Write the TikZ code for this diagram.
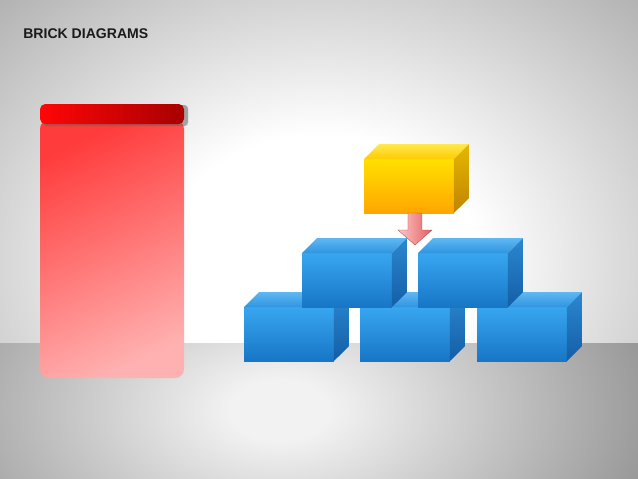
\documentclass[tikz,border=0pt]{standalone}
\usepackage{fontspec}
\setmainfont{Liberation Sans}
\usepackage{xcolor}
\usetikzlibrary{calc,positioning}

\definecolor{wallgray}{HTML}{A8A8A8}
\definecolor{floorgray}{HTML}{8C8C8C}
\definecolor{floorlight}{HTML}{F2F2F2}
\definecolor{titleblack}{HTML}{1A1A1A}
\definecolor{headred}{HTML}{FF0606}
\definecolor{headdark}{HTML}{A80000}
\definecolor{panelred}{HTML}{FF3C3C}
\definecolor{panelpink}{HTML}{FFB0B0}
\definecolor{bluefronthi}{HTML}{38A6F0}
\definecolor{bluefrontlo}{HTML}{1776C6}
\definecolor{bluetophi}{HTML}{60B8F2}
\definecolor{bluetoplo}{HTML}{2F95E0}
\definecolor{bluesidehi}{HTML}{2A88D0}
\definecolor{bluesidelo}{HTML}{145EA6}
\definecolor{goldfronthi}{HTML}{FFE000}
\definecolor{goldfrontlo}{HTML}{FFA600}
\definecolor{goldtophi}{HTML}{FFE850}
\definecolor{goldtoplo}{HTML}{FFCC00}
\definecolor{goldsidehi}{HTML}{E6B800}
\definecolor{goldsidelo}{HTML}{C08400}
\definecolor{arrowlight}{HTML}{FFC8C8}
\definecolor{arrowdark}{HTML}{E05E5E}

\pgfdeclareradialshading{wallglow}{\pgfpoint{0bp}{0bp}}{color(0bp)=(white); color(8bp)=(white); color(25bp)=(wallgray); color(50bp)=(wallgray)}
\pgfdeclareradialshading{floorglow}{\pgfpoint{0bp}{0bp}}{color(0bp)=(floorlight); color(3bp)=(floorlight); color(25bp)=(floorgray); color(50bp)=(floorgray)}

% one brick: front face as a node, top and side faces from its anchors
\newcommand{\brick}[4]{%
  \node[brickface, #4 front] (#1) at (#2,#3) {};
  \shade[#4 top] (#1.north west) -- ++(15,15) -- ($(#1.north east)+(15,15)$) -- (#1.north east) -- cycle;
  \shade[#4 side] (#1.south east) -- (#1.north east) -- ++(15,15) -- ++(0,-54) -- cycle;
}

\begin{document}
\begin{tikzpicture}[x=0.02cm,y=0.02cm,
  brickface/.style={minimum width=1.8cm, minimum height=1.08cm, inner sep=0pt, outer sep=0pt, anchor=south west},
  blue front/.style={top color=bluefronthi, bottom color=bluefrontlo},
  blue top/.style={top color=bluetophi, bottom color=bluetoplo},
  blue side/.style={top color=bluesidehi, bottom color=bluesidelo},
  gold front/.style={top color=goldfronthi, bottom color=goldfrontlo},
  gold top/.style={top color=goldtophi, bottom color=goldtoplo},
  gold side/.style={top color=goldsidehi, bottom color=goldsidelo}]

\useasboundingbox (0,0) rectangle (638,478);

% wall and floor
\begin{scope}
\clip (0,135) rectangle (638,478);
\fill[wallgray] (0,135) rectangle (638,478);
\shade[shading=wallglow] (320,215) ellipse (500 and 400);
\end{scope}
\begin{scope}
\clip (0,0) rectangle (638,135);
\fill[floorgray] (0,0) rectangle (638,135);
\shade[shading=floorglow] (280,68) ellipse (420 and 250);
\end{scope}

\node[anchor=west, inner sep=0pt, text=titleblack, font=\fontsize{8}{10}\selectfont\bfseries] (title) at (23,444.5) {BRICK DIAGRAMS};

% red panel
\shade[top color=panelred, bottom color=panelpink, shading angle=25, rounded corners=5] (40,100) rectangle (184,358);
\fill[black!60, opacity=0.55, rounded corners=2] (43,352) rectangle (188,373);
\shade[left color=headred, right color=headdark, rounded corners=3] (40,354) rectangle (184,374);

% bricks
\brick{lowleft}{244}{117}{blue}
\brick{lowmid}{360}{117}{blue}
\brick{lowright}{477}{117}{blue}
\brick{upleft}{302}{171}{blue}
\brick{upright}{418}{171}{blue}
\brick{gold}{364}{265}{gold}

% arrow
\coordinate (arrowtop) at ($(gold.south)+(6,0)$);
\shade[left color=arrowlight, right color=arrowdark, draw=arrowdark!80!black, line width=0.2pt]
  ($(arrowtop)+(-7,0)$) -- ++(0,-17) -- ++(-10,0) -- ($(arrowtop)+(0,-32)$)
  -- ($(arrowtop)+(17,-17)$) -- ++(-10,0) -- ($(arrowtop)+(7,0)$) -- cycle;

\end{tikzpicture}
\end{document}
